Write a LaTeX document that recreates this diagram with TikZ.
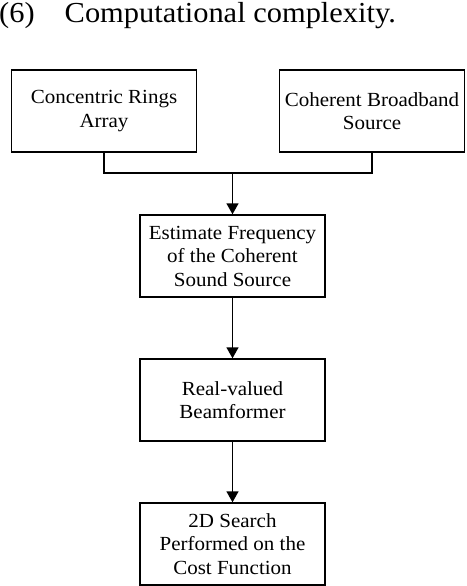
\documentclass[tikz,border=0pt]{standalone}
\usepackage{fontspec}
\setmainfont[FakeStretch=1.05]{Liberation Serif}
\usetikzlibrary{arrows.meta}
\begin{document}
\begin{tikzpicture}[x=1pt,y=-1pt,
  box/.style={draw,line width=1.4pt,minimum width=185pt,minimum height=82pt,align=center,inner sep=0pt,font=\fontsize{20}{23.5}\selectfont},
  conn/.style={line width=1.4pt},
  arr/.style={conn,-{Triangle[length=11pt,width=12pt]}}]
\useasboundingbox (0,0) rectangle (466,586);
\clip (0,0) rectangle (466,586);
\node[anchor=base west,inner sep=0pt,font=\fontsize{29}{34}\selectfont] (title) at (-1,23) {(6)\hspace{30pt}Computational complexity.};
\node[box] (cra) at (104,111) {Concentric Rings\\Array};
\node[box] (cbs) at (372,111) {Coherent Broadband\\Source};
\node[box] (est) at (232.5,256) {Estimate Frequency\\of the Coherent\\Sound Source};
\node[box] (rvb) at (232.5,400) {Real-valued\\Beamformer};
\node[box] (srch) at (232.5,544) {2D Search\\Performed on the\\Cost Function};
\coordinate (j) at (232.5,173);
\draw[conn] (cra.south) |- (j) -| (cbs.south);
\draw[arr] (j) -- (est.north);
\draw[arr] (est.south) -- (rvb.north);
\draw[arr] (rvb.south) -- (srch.north);
\end{tikzpicture}
\end{document}
